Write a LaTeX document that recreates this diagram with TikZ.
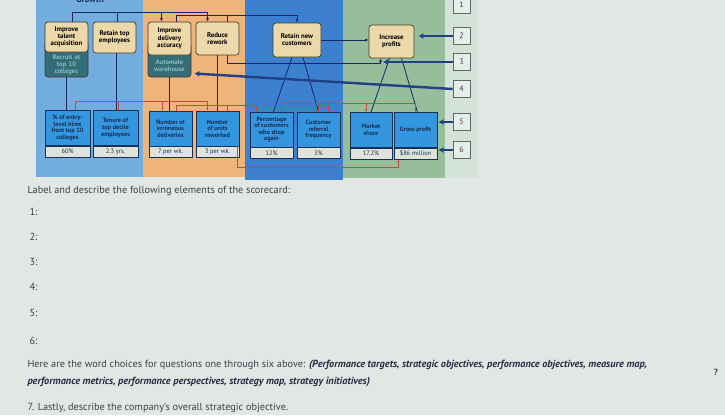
\documentclass[tikz,border=0pt]{standalone}
\usepackage{fontspec}
\setmainfont{PT Sans}
\usetikzlibrary{positioning, arrows.meta}

\definecolor{pagebg}{RGB}{224,231,228}
\definecolor{lgband}{RGB}{115,172,222}
\definecolor{ipband}{RGB}{238,180,122}
\definecolor{cuband}{RGB}{62,128,208}
\definecolor{fiband}{RGB}{150,190,155}
\definecolor{numband}{RGB}{212,227,218}
\definecolor{objfill}{RGB}{236,216,168}
\definecolor{objline}{RGB}{70,60,45}
\definecolor{initfill}{RGB}{52,108,120}
\definecolor{inittext}{RGB}{140,188,190}
\definecolor{metfill}{RGB}{52,150,222}
\definecolor{metline}{RGB}{22,48,88}
\definecolor{valfill}{RGB}{224,226,220}
\definecolor{maplink}{RGB}{22,40,92}
\definecolor{rellink}{RGB}{200,72,72}
\definecolor{callout}{RGB}{34,64,132}
\definecolor{qtext}{RGB}{62,64,72}
\definecolor{choicetext}{RGB}{40,42,66}

\tikzset{
  obj/.style={draw=objline, fill=objfill, rounded corners=3pt, line width=0.7pt,
    align=center, inner sep=1pt, font=\fontsize{6.8}{7.2}\selectfont\bfseries},
  init/.style={draw=objline, fill=initfill, rounded corners=3pt, line width=0.7pt,
    align=center, inner sep=1pt, text=inittext, font=\fontsize{6.6}{6.9}\selectfont\bfseries},
  metric/.style={draw=metline, fill=metfill, line width=0.7pt, align=center,
    inner sep=1pt, text=metline, minimum height=35, font=\fontsize{6.3}{6.6}\selectfont\bfseries},
  val/.style={draw=metline, fill=valfill, line width=0.7pt, minimum height=11,
    inner sep=0pt, text=metline, font=\fontsize{6.4}{6.4}\selectfont},
  numbox/.style={draw=gray!80!black, fill=numband!60!white, line width=0.6pt,
    minimum size=17, inner sep=0pt, text=qtext, font=\fontsize{8}{8}\selectfont},
  maplk/.style={draw=maplink, line width=0.8pt},
  rel/.style={draw=rellink, line width=0.7pt, >={Latex[length=2.5pt,width=2.2pt]}},
  bigarrow/.style={draw=callout, line width=2.4pt, -{Latex[length=5pt,width=6pt]}},
  qline/.style={anchor=base west, text=qtext, font=\fontsize{10.3}{12}\selectfont}
}

\begin{document}
\begin{tikzpicture}[x=1pt, y=-1pt, >={Latex[length=3.5pt,width=3pt]}]
  \clip (0,0) rectangle (725,415);
  \fill[pagebg] (0,0) rectangle (725,415);
  % perspective bands
  \fill[lgband] (36,0) rectangle (143,177);
  \fill[ipband] (143,0) rectangle (245,177);
  \fill[cuband] (245,0) rectangle (343,180);
  \fill[fiband] (343,0) rectangle (445,178);
  \fill[numband] (445,0) rectangle (478,178);
  \node[text=metline, font=\fontsize{9}{9}\selectfont\bfseries] (growth) at (90,-1) {Growth};

  % initiatives (drawn first, objectives sit on top)
  \node[init, minimum width=43, minimum height=37] (inRec) at (66.5,58.5) {};
  \node[init, draw=none, fill=none, text width=42] (inRecT) at (66.5,65) {Recruit at\\top 10\\colleges};
  \node[init, minimum width=43, minimum height=33] (inAut) at (169.5,60.5) {};
  \node[init, draw=none, fill=none, text width=42] (inAutT) at (169.5,66) {Automate\\warehouse};

  % objectives
  \node[obj, minimum width=43, minimum height=30] (obTal) at (66.5,37) {Improve\\talent\\acquisition};
  \node[obj, minimum width=43, minimum height=31] (obRet) at (114.5,37.5) {Retain top\\employees};
  \node[obj, minimum width=43, minimum height=33] (obDel) at (169.5,38.5) {Improve\\delivery\\accuracy};
  \node[obj, minimum width=43, minimum height=33] (obRew) at (217.5,38.5) {Reduce\\rework};
  \node[obj, minimum width=48, minimum height=34] (obCus) at (297,40) {Retain new\\customers};
  \node[obj, minimum width=45, minimum height=33] (obPro) at (391.5,41.5) {Increase\\profits};

  % measures
  \node[metric, minimum width=45] (mEnt) at (67.5,128) {\% of entry-\\level hires\\from top 10\\colleges};
  \node[metric, minimum width=45] (mTen) at (115.5,128) {Tenure of\\top decile\\employees};
  \node[metric, minimum width=43] (mErr) at (170.5,128.5) {Number of\\erroneous\\deliveries};
  \node[metric, minimum width=43] (mUni) at (217.5,128.5) {Number\\of units\\reworked};
  \node[metric, minimum width=43] (mShp) at (271.5,129.5) {Percentage\\of customers\\who shop\\again};
  \node[metric, minimum width=43] (mRef) at (318.5,129.5) {Customer\\referral\\frequency};
  \node[metric, minimum width=42] (mMkt) at (371,130) {Market\\share};
  \node[metric, minimum width=43] (mGro) at (415.5,130) {Gross profit};

  \node[val, below=0pt of mEnt, minimum width=45] (vEnt) {60\%};
  \node[val, below=0pt of mTen, minimum width=45] (vTen) {2.3 yrs.};
  \node[val, below=0pt of mErr, minimum width=43] (vErr) {7 per wk.};
  \node[val, below=0pt of mUni, minimum width=43] (vUni) {3 per wk.};
  \node[val, below=0pt of mShp, minimum width=43] (vShp) {12\%};
  \node[val, below=0pt of mRef, minimum width=43] (vRef) {3\%};
  \node[val, below=0pt of mMkt, minimum width=42] (vMkt) {17.2\%};
  \node[val, below=0pt of mGro, minimum width=43] (vGro) {\$86 million};

  % strategy map links
  \coordinate (ta) at (0,12);
  \coordinate (tb) at (0,15);
  \coordinate (tc) at (0,63);
  \draw[maplk] ([xshift=6pt]obTal.north) |- ([xshift=-10pt]obRew.north |- ta);
  \draw[maplk] ([xshift=3pt]obRet.north) -- ([xshift=3pt]obRet.north |- ta);
  \draw[maplk,->] ([xshift=-8pt]obDel.north |- ta) -- ([xshift=-8pt]obDel.north);
  \draw[maplk,->] ([xshift=-10pt]obRew.north |- ta) -- ([xshift=-10pt]obRew.north);
  \draw[maplk] ([xshift=7pt]obDel.north) |- (obCus.north |- tb);
  \draw[maplk] ([xshift=10pt]obRew.north) -- ([xshift=10pt]obRew.north |- tb);
  \draw[maplk,->] (obCus.north |- tb) -- (obCus.north);
  \draw[maplk,->] (obCus.east) -- (obCus.east -| obPro.west);
  \draw[maplk,->] ([xshift=10pt]obRew.south) |- ([xshift=-11pt]obPro.south |- tc) -- ([xshift=-11pt]obPro.south);

  % objective to measure
  \draw[maplk] (inRec.south) -- (inRec.south |- mEnt.north);
  \draw[maplk] ([xshift=1.5pt]obRet.south) -- ([xshift=1.5pt]obRet.south |- mTen.north);
  \draw[maplk] (inAut.south) -- (inAut.south |- mErr.north);
  \draw[maplk] (obRew.south) -- (obRew.south |- mUni.north);
  \draw[maplk] ([xshift=-5pt]obCus.south) -- ([xshift=2pt]mShp.north);
  \draw[maplk] ([xshift=6pt]obCus.south) -- (mRef.north);
  \draw[maplk] ([xshift=-2pt]obPro.south) -- (mMkt.north);
  \draw[maplk] ([xshift=10pt]obPro.south) -- ([xshift=2pt]mGro.north);

  % measure links
  \coordinate (ra) at (0,101);
  \coordinate (rb) at (0,105);
  \coordinate (rc) at (0,103);
  \coordinate (rd) at (0,167);
  \draw[rel] ([xshift=8pt]mEnt.north) |- ([xshift=-10pt]mUni.north |- ra);
  \draw[rel] ([xshift=3pt]mTen.north) -- ([xshift=3pt]mTen.north |- ra);
  \draw[rel,->] ([xshift=-8pt]mErr.north |- ra) -- ([xshift=-8pt]mErr.north);
  \draw[rel,->] ([xshift=-10pt]mUni.north |- ra) -- ([xshift=-10pt]mUni.north);
  \draw[rel] ([xshift=6pt]mErr.north) |- ([xshift=10pt]mRef.north |- rb);
  \draw[rel] ([xshift=10pt]mUni.north) -- ([xshift=10pt]mUni.north |- rb);
  \draw[rel,->] ([xshift=-15pt]mShp.north |- rb) -- ([xshift=-15pt]mShp.north);
  \draw[rel,->] ([xshift=10pt]mRef.north |- rb) -- ([xshift=10pt]mRef.north);
  \draw[rel] ([xshift=10pt]mShp.north) |- (mGro.north |- rc);
  \draw[rel] (mRef.north) -- (mRef.north |- rc);
  \draw[rel,->] ([xshift=-5pt]mMkt.north |- rc) -- ([xshift=-5pt]mMkt.north);
  \draw[rel,->] (mGro.north |- rc) -- (mGro.north);
  \draw[rel,->] ([xshift=-2pt]vUni.north east) |- ([xshift=-17pt]vGro.south |- rd) -- ([xshift=-17pt]vGro.south);

  % numbered callouts
  \node[numbox] (n1) at (461.5,4.5) {1};
  \node[numbox] (n2) at (461.5,36) {2};
  \node[numbox] (n3) at (461.5,62) {3};
  \node[numbox] (n4) at (461.5,89) {4};
  \node[numbox] (n5) at (461.5,122) {5};
  \node[numbox] (n6) at (461.5,150) {6};
  \coordinate (n3tip) at (383,62);
  \draw[bigarrow, shorten >=4pt] (n2.west) -- (obPro.east |- n2);
  \draw[bigarrow] (n3.west) -- (n3tip);
  \draw[bigarrow, shorten >=3pt] (n4.west) -- ([yshift=4pt]inAut.south east);
  \draw[bigarrow, shorten >=1pt] (n5.west) -- (mGro.east |- n5);
  \draw[bigarrow, shorten >=1pt] (n6.west) -- (vGro.east |- n6);

  % questions
  \node[qline] (qhead) at (24,193) {Label and describe the following elements of the scorecard:};
  \node[qline] (q1) at (26,215) {1:};
  \node[qline] (q2) at (26,240) {2:};
  \node[qline] (q3) at (26,265) {3:};
  \node[qline] (q4) at (26,290) {4:};
  \node[qline] (q5) at (26,316) {5:};
  \node[qline] (q6) at (26,344) {6:};
  \node[qline] (qwords) at (24,367) {Here are the word choices for questions one through six above: {\color{choicetext}\itshape\bfseries (Performance targets, strategic objectives, performance objectives, measure map,}};
  \node[qline, text=choicetext, font=\fontsize{10.3}{12}\selectfont\itshape\bfseries] (qwords2) at (24,384) {performance metrics, performance perspectives, strategy map, strategy initiatives)};
  \node[qline] (q7) at (24,410) {7. Lastly, describe the company's overall strategic objective.};
  \node[text=qtext, font=\fontsize{9}{9}\selectfont\bfseries] (qmark) at (716,372) {?};
\end{tikzpicture}
\end{document}
